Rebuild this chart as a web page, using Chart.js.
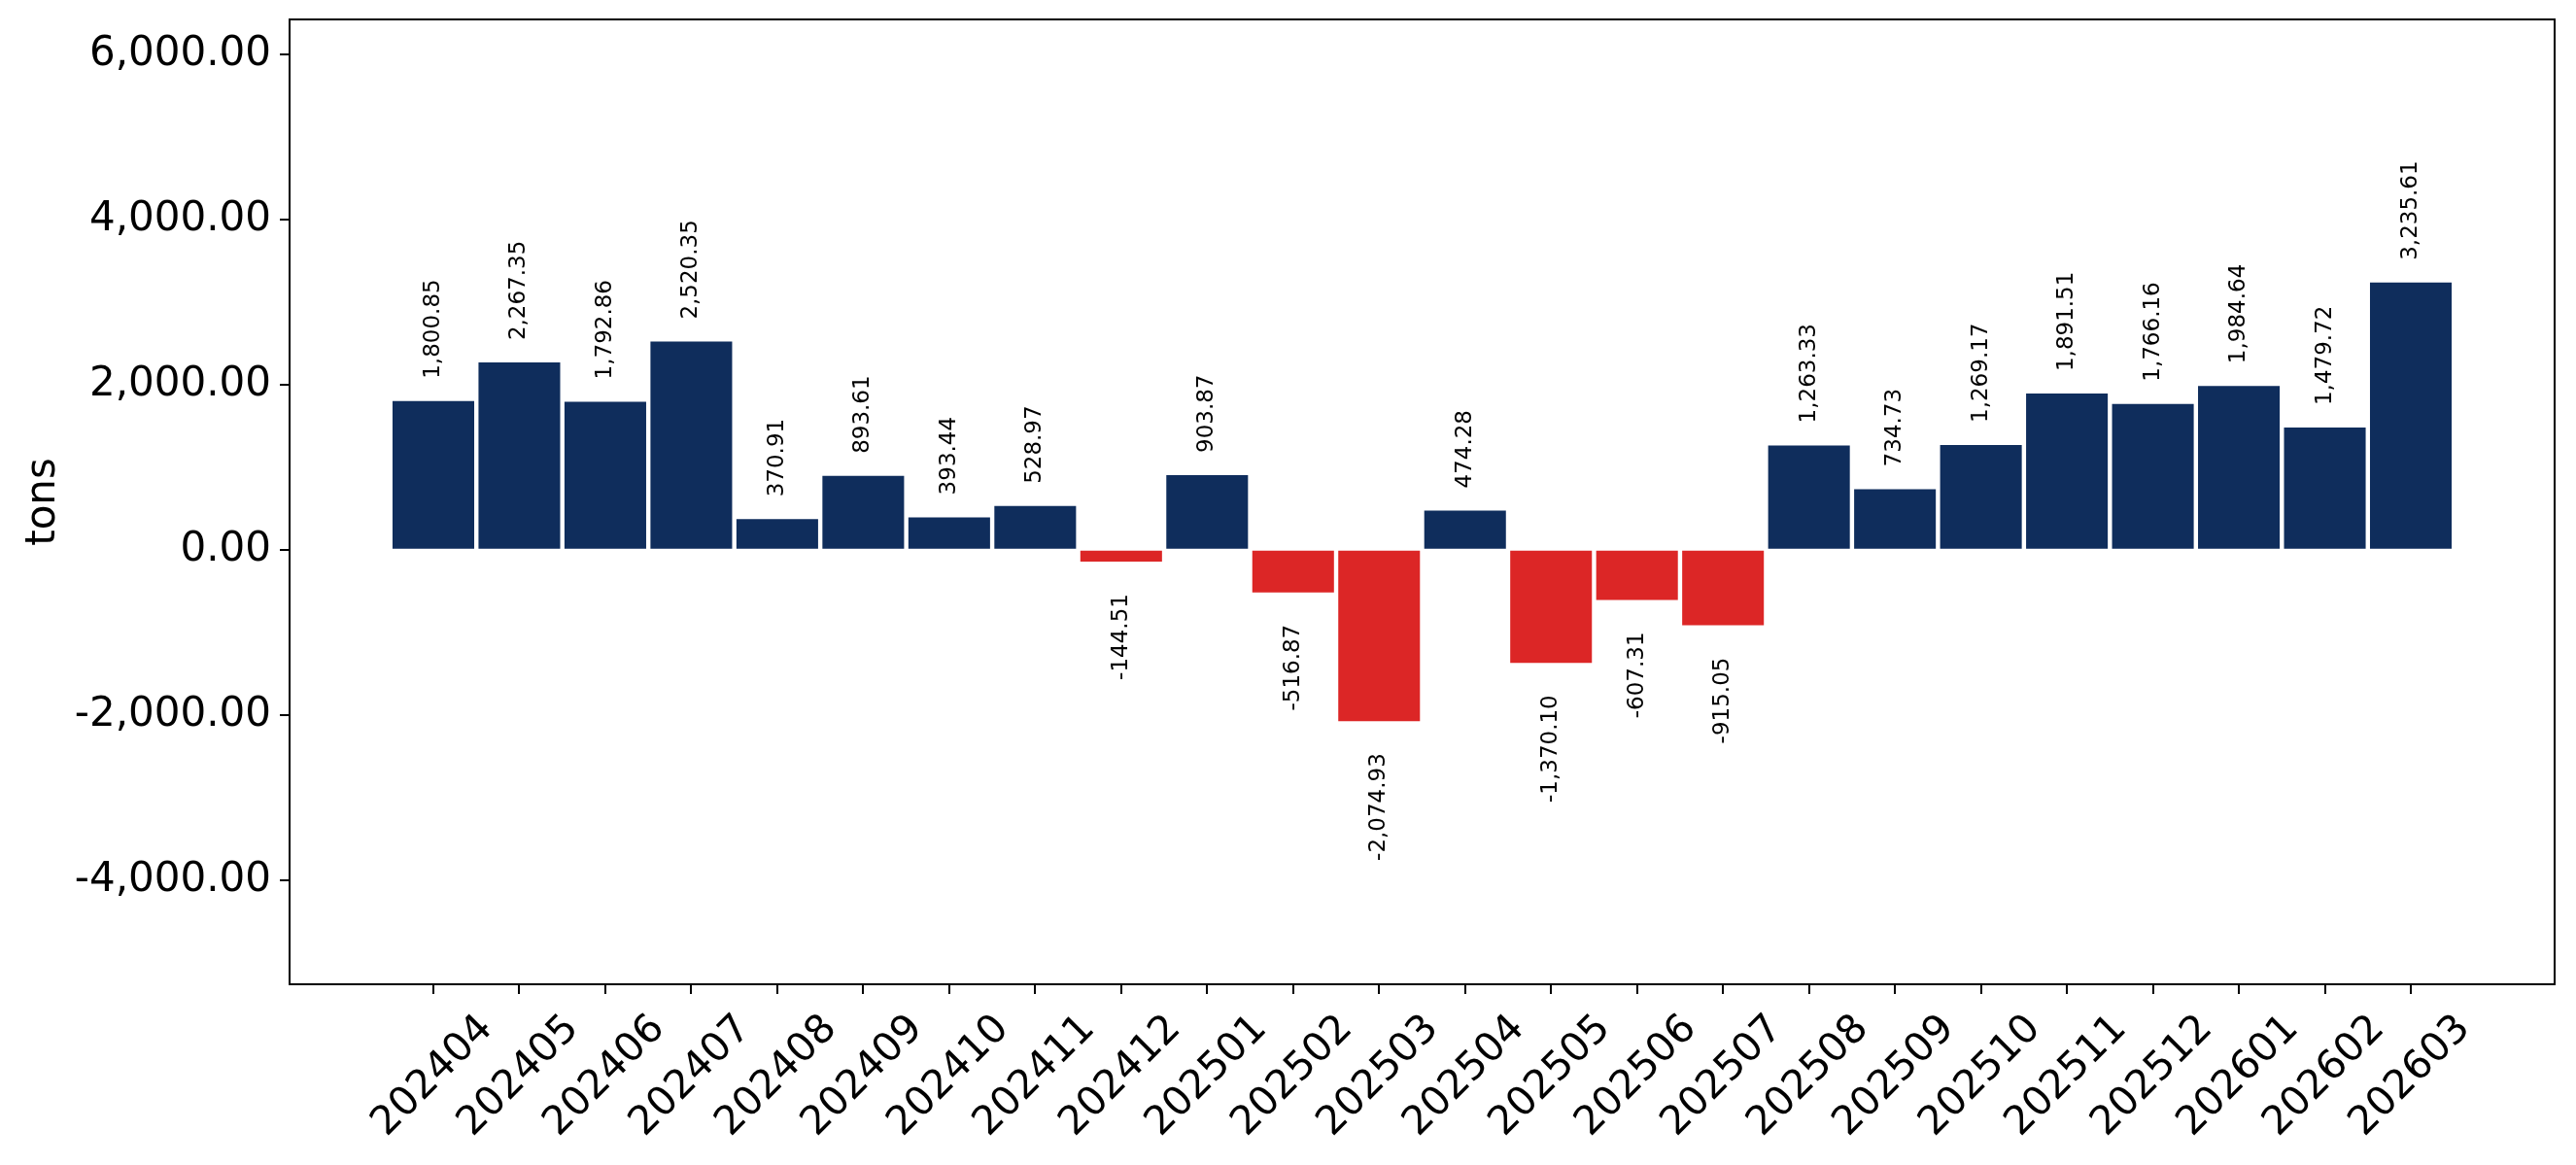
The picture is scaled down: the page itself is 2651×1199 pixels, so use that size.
<!DOCTYPE html>
<html>
<head>
<meta charset="utf-8">
<script src="https://cdn.jsdelivr.net/npm/chart.js@4.4.1/dist/chart.umd.min.js"></script>
<style>
    body { margin: 0; background: #fff; }
    canvas { display: block; }
</style>
</head>
<body>
<canvas id="myChart" width="2651" height="1199"></canvas>
<script>
    // Les données du graphique
    var months = ['202404', '202405', '202406', '202407', '202408', '202409', '202410', '202411', '202412',
                  '202501', '202502', '202503', '202504', '202505', '202506', '202507', '202508', '202509',
                  '202510', '202511', '202512', '202601', '202602', '202603'];
    var values = [1800.85, 2267.35, 1792.86, 2520.35, 370.91, 893.61, 393.44, 528.97, -144.51,
                  903.87, -516.87, -2074.93, 474.28, -1370.10, -607.31, -915.05, 1263.33, 734.73,
                  1269.17, 1891.51, 1766.16, 1984.64, 1479.72, 3235.61];
    var yTicks = [-4000, -2000, 0, 2000, 4000, 6000];
    var yMin = -5261.25;
    var yMax = 6421.93;
    var xMin = -1.6725;
    var xMax = 24.6725;

    var navy = '#0f2d5c';
    var red = '#dc2626';

    function fmt(v) {
        return v.toLocaleString('en-US', { minimumFractionDigits: 2, maximumFractionDigits: 2 });
    }

    // points {x, y} pour l'axe x linéaire
    var points = [];
    for (let i = 0; i < values.length; i++) {
        points.push({ x: i, y: values[i] });
    }
    var colors = values.map(v => v < 0 ? red : navy);

    Chart.defaults.font.family = "'DejaVu Sans', sans-serif";
    Chart.defaults.color = '#000';

    // cadre noir autour de la zone du graphique
    var framePlugin = {
        id: 'frame',
        afterDraw(chart) {
            var a = chart.chartArea;
            var ctx = chart.ctx;
            ctx.save();
            ctx.strokeStyle = '#000';
            ctx.lineWidth = 2;
            ctx.strokeRect(a.left, a.top, a.right - a.left, a.bottom - a.top);
            ctx.restore();
        }
    };

    // étiquettes de valeur verticales au-dessus / en-dessous des barres
    var labelPlugin = {
        id: 'barLabels',
        afterDatasetsDraw(chart) {
            var ctx = chart.ctx;
            var meta = chart.getDatasetMeta(0);
            var yScale = chart.scales.y;
            ctx.save();
            ctx.fillStyle = '#000';
            ctx.font = '23px "DejaVu Sans"';
            ctx.textBaseline = 'middle';
            for (let i = 0; i < values.length; i++) {
                var bar = meta.data[i];
                var v = values[i];
                var py = yScale.getPixelForValue(v);
                ctx.save();
                if (v >= 0) {
                    ctx.translate(bar.x, py - 23);
                    ctx.rotate(-Math.PI / 2);
                    ctx.textAlign = 'left';
                } else {
                    ctx.translate(bar.x, py + 33);
                    ctx.rotate(-Math.PI / 2);
                    ctx.textAlign = 'right';
                }
                ctx.fillText(fmt(v), 0, 0);
                ctx.restore();
            }
            ctx.restore();
        }
    };

    var ctx = document.getElementById('myChart').getContext('2d');
    var myChart = new Chart(ctx, {
        type: 'bar',
        data: {
            datasets: [{
                label: 'tons',
                data: points,
                backgroundColor: colors,
                borderWidth: 0,
                barPercentage: 0.95,
                categoryPercentage: 1
            }]
        },
        options: {
            responsive: false,
            animation: false,
            devicePixelRatio: 1,
            layout: { padding: { top: 20, right: 22, left: 0, bottom: 0 } },
            plugins: {
                legend: { display: false },
                tooltip: { enabled: false }
            },
            scales: {
                x: {
                    type: 'linear',
                    min: xMin,
                    max: xMax,
                    offset: false,
                    afterBuildTicks: function (scale) {
                        scale.ticks = months.map((m, i) => ({ value: i }));
                    },
                    afterFit: function (scale) {
                        scale.height = 186;
                        scale.paddingLeft = 0;
                        scale.paddingRight = 0;
                    },
                    grid: {
                        offset: false,
                        drawOnChartArea: false,
                        drawTicks: true,
                        tickLength: 10,
                        lineWidth: 2,
                        color: '#000'
                    },
                    border: { display: false },
                    ticks: {
                        autoSkip: false,
                        minRotation: 45,
                        maxRotation: 45,
                        padding: 12,
                        labelOffset: 55,
                        font: { size: 41 },
                        color: '#000',
                        callback: function (v) { return months[v]; }
                    }
                },
                y: {
                    type: 'linear',
                    min: yMin,
                    max: yMax,
                    afterBuildTicks: function (scale) {
                        scale.ticks = yTicks.map(t => ({ value: t }));
                    },
                    afterFit: function (scale) {
                        scale.width = 298;
                        scale.paddingTop = 0;
                        scale.paddingBottom = 0;
                    },
                    grid: {
                        drawOnChartArea: false,
                        drawTicks: true,
                        tickLength: 10,
                        lineWidth: 2,
                        color: '#000'
                    },
                    border: { display: false },
                    ticks: {
                        padding: 9,
                        font: { size: 42 },
                        color: '#000',
                        callback: function (v) { return fmt(v); }
                    },
                    title: {
                        display: true,
                        text: 'tons',
                        font: { size: 42 },
                        color: '#000',
                        padding: { top: 20, bottom: 0 }
                    }
                }
            }
        },
        plugins: [framePlugin, labelPlugin]
    });
</script>
</body>
</html>
